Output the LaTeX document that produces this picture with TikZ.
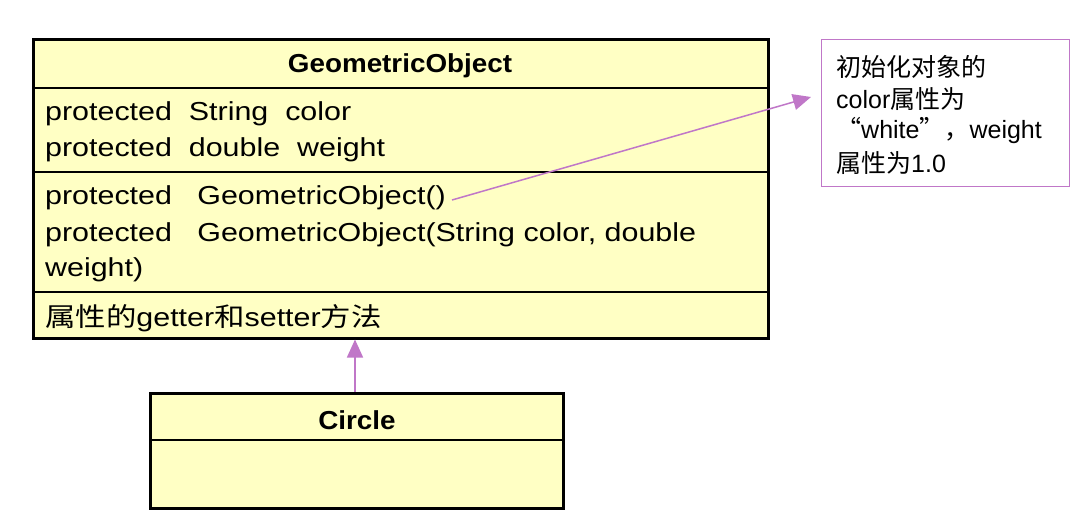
\documentclass[tikz,border=0pt]{standalone}
\usepackage{fontspec}
\setmainfont{Liberation Sans}
\newfontfamily\cjk{Noto Sans CJK SC}
\usetikzlibrary{arrows.meta}
\definecolor{umlfill}{HTML}{FFFFC4}
\definecolor{purp}{HTML}{C077C8}
\newcommand{\wid}[1]{\scalebox{1.17}[1]{#1}}
\newcommand{\twid}[1]{\scalebox{1.07}[1]{#1}}
\begin{document}
\begin{tikzpicture}[x=1pt,y=-1pt,
  umlbox/.style={draw=black,line width=3pt,fill=umlfill},
  sep/.style={draw=black,line width=1.2pt},
  txt/.style={anchor=west,inner sep=0pt,font=\fontsize{26}{30}\selectfont},
  ntxt/.style={anchor=west,inner sep=0pt,font=\fontsize{25}{30}\selectfont},
  ttl/.style={inner sep=0pt,font=\fontsize{26}{30}\selectfont\bfseries},
  conn/.style={draw=purp,line width=1.5pt,-{Triangle[length=18pt,width=16pt]}}]
\useasboundingbox (0,0) rectangle (1089,516);
\fill[white] (0,0) rectangle (1089,516);
% GeometricObject
\path[umlbox] (33,40) rectangle (768,338);
\draw[sep] (33,88) -- (768,88);
\draw[sep] (33,172) -- (768,172);
\draw[sep] (33,292) -- (768,292);
\node[ttl] (gt) at (400,66) {\twid{GeometricObject}};
\node[txt] (a1) at (45,114) {\wid{protected\ \ String\ \ color}};
\node[txt] (a2) at (45,150) {\wid{protected\ \ double\ \ weight}};
\node[txt] (m1) at (45,198) {\wid{protected\ \ \ GeometricObject()}};
\node[txt] (m2) at (45,235) {\wid{protected\ \ \ GeometricObject(String color, double}};
\node[txt] (m3) at (45,270) {\wid{weight)}};
\node[txt] (m4) at (45,318) {\wid{{\cjk 属性的}getter{\cjk 和}setter{\cjk 方法}}};
% Circle
\path[umlbox] (150,393) rectangle (563,508);
\draw[sep] (150,440) -- (563,440);
\node[ttl] (ct) at (357,420) {\twid{Circle}};
% note
\draw[purp,line width=1pt] (821,40) rectangle (1069,186);
\node[ntxt] (n1) at (836,67) {\cjk 初始化对象的};
\node[ntxt] (n2) at (836,99) {color{\cjk 属性为}};
\node[ntxt] (n3) at (836,131) {{\cjk “}white{\cjk ”，}weight};
\node[ntxt] (n4) at (836,163) {{\cjk 属性为}1.0};
\coordinate (gbot) at (355,339.5);
\coordinate (cbot) at (355,391.5);
\coordinate (ms) at (452,200);
\coordinate (nt) at (811,97);
\draw[conn] (cbot) -- (gbot);
\draw[conn] (ms) -- (nt);
\end{tikzpicture}
\end{document}
